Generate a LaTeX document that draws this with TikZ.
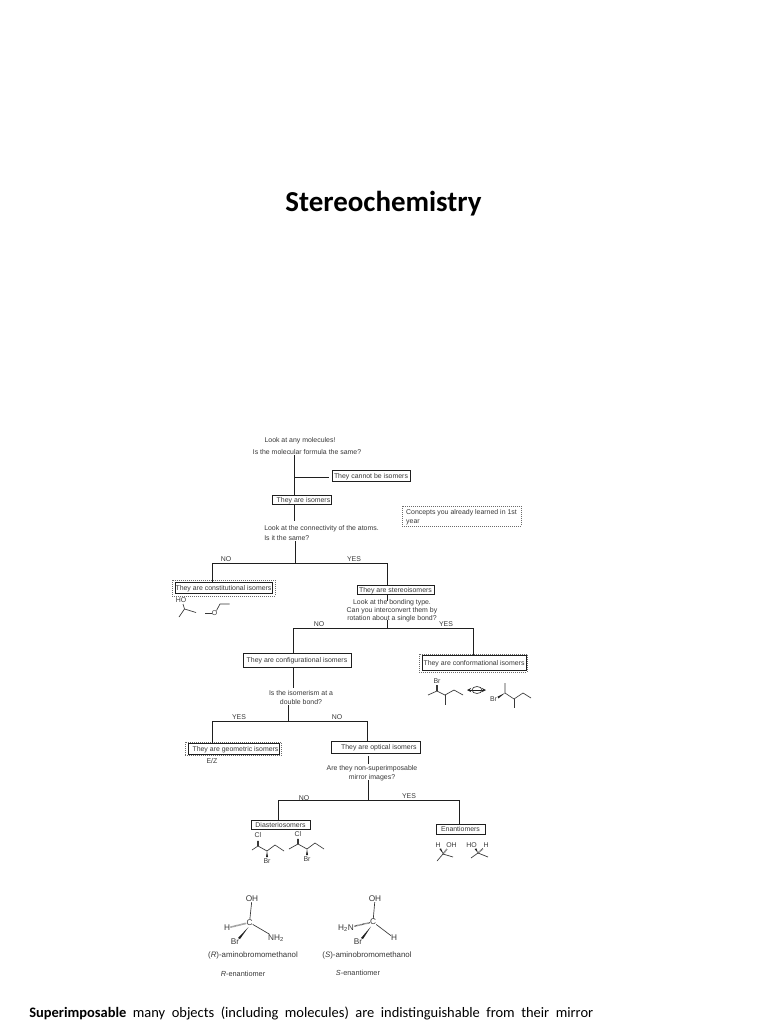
\documentclass[tikz,border=0pt]{standalone}
\usepackage{fontspec}
\setmainfont{Liberation Sans}
\newfontfamily\calib{Carlito}
\definecolor{ink}{gray}{0.12}
\definecolor{txt}{gray}{0.22}
\definecolor{dash}{gray}{0.42}
\tikzset{
  lbl/.style={inner sep=0pt,text=txt,font=\fontsize{5.2}{6.75}\selectfont,align=center,yshift=-0.5pt},
  lbll/.style={lbl,align=left,anchor=west},
  bx/.style={draw=ink,line width=0.75pt,fill=white,inner sep=0pt,text=txt,text depth=0pt,font=\fontsize{5.2}{6.75}\selectfont},
  dbox/.style={draw=dash,densely dotted,line width=0.5pt,inner sep=0pt},
  conn/.style={draw=ink,line width=0.75pt},
  bond/.style={draw=txt,line width=0.5pt},
  wedge/.style={fill=ink,draw=none},
  hash/.style={draw=txt,line width=1pt,dash pattern=on 0.4pt off 0.5pt},
  atom/.style={inner sep=0pt,text=txt,font=\fontsize{5.2}{6.75}\selectfont},
  bigatom/.style={atom,font=\fontsize{6.2}{7}\selectfont},
  sz/.style 2 args={minimum width=#1*0.75pt,minimum height=#2*0.75pt}
}
\begin{document}
\begin{tikzpicture}[x=0.75pt,y=-0.75pt]
\useasboundingbox (0,0) rectangle (768,1024);
\fill[white] (0,0) rectangle (768,1024);

\node[inner sep=0pt,font=\calib\bfseries\fontsize{21.7}{24}\selectfont,text=black] (title) at (383.5,203.5) {Stereochemistry};

% dotted surrounds
\node[dbox,sz={103}{16}] (dconst) at (223.5,588) {};
\node[dbox,sz={108}{18}] (dconf) at (473,663) {};
\node[dbox,sz={96.5}{13}] (dgeo) at (233.2,748.5) {};
\node[dbox,sz={119}{20}] (dnote) at (461.5,516) {};

% questions
\node[lbl] (q1a) at (300,440) {Look at any molecules!};
\node[lbl] (q1b) at (307,451) {Is the molecular formula the same?};
\node[lbll] (q2a) at (264,528) {Look at the connectivity of the atoms.};
\node[lbll] (q2b) at (264,537) {Is it the same?};
\node[lbl,font=\fontsize{5.2}{5.9}\selectfont] (q3) at (392,610) {Look at the bonding type.\\Can you interconvert them by\\rotation about a single bond?};
\node[lbl] (q4) at (301,696.5) {Is the isomerism at a\\double bond?};
\node[lbl] (q5) at (372,772.5) {Are they non-superimposable\\mirror images?};
\node[lbl,align=left] (note) at (461.5,516.5) {Concepts you already learned in 1st\\year};

% boxes
\node[bx,sz={78}{11}] (cannot) at (371,475.5) {They cannot be isomers};
\node[bx,sz={59}{8.5}] (iso) at (301.5,500) {\hspace*{3pt}They are isomers};
\node[bx,sz={97}{11.5}] (const) at (223.5,588) {They are constitutional isomers};
\node[bx,sz={77}{8.5}] (stereo) at (395.5,590) {They are stereoisomers};
\node[bx,sz={108}{14}] (config) at (297,660) {They are configurational isomers};
\node[bx,sz={104}{15}] (conf) at (474,662.5) {They are conformational isomers};
\node[bx,sz={91}{10.5}] (geo) at (233.5,749) {\hspace*{3pt}They are geometric isomers};
\node[bx,sz={89}{12}] (opt) at (375.5,747) {\hspace*{5pt}They are optical isomers};
\node[bx,sz={59}{9}] (dia) at (280.5,824.5) {Diasteriosomers};
\node[bx,sz={49}{10}] (ena) at (460.5,829) {Enantiomers};

% branch points
\coordinate (j1) at (294.5,477.5);
\coordinate (j2) at (295.5,563.5);
\coordinate (j2l) at (212,563.5);
\coordinate (j2r) at (387,563.5);
\coordinate (j3) at (387,628);
\coordinate (j3l) at (293.5,628);
\coordinate (j3r) at (473,628);
\coordinate (j4) at (288.5,721.5);
\coordinate (j4l) at (212,721.5);
\coordinate (j4r) at (367,721.5);
\coordinate (j5) at (368.5,800.5);
\coordinate (j5l) at (278,800.5);
\coordinate (j5r) at (459,800.5);
\coordinate (c1) at (294.5,455);
\coordinate (c2) at (294.5,521);
\coordinate (c3) at (295.5,541);
\coordinate (c4) at (387,601);
\coordinate (c5) at (387,620);
\coordinate (c6) at (293.5,688);
\coordinate (c7) at (288.5,705);
\coordinate (c8) at (368.5,764);
\coordinate (c8t) at (368.5,756);
\coordinate (c9) at (368.5,780);

% connectors
\draw[conn] (c1) -- (j1 |- iso.north);
\draw[conn,shorten >=2.25pt] (j1) -- (j1 -| cannot.west);
\draw[conn] (j1 |- iso.south) -- (c2);
\draw[conn] (c3) -- (j2);
\draw[conn] (const.north -| j2l) |- (j2r) -- (j2r |- stereo.north);
\draw[conn] (j2r |- stereo.south) -- (c4);
\draw[conn] (c5) -- (j3);
\draw[conn] (config.north -| j3l) |- (j3r) -- (j3r |- conf.north);
\draw[conn] (j3l |- config.south) -- (c6);
\draw[conn] (c7) -- (j4);
\draw[conn] (geo.north -| j4l) |- (j4r) -- (j4r |- opt.north);
\draw[conn] (c8t) -- (c8);
\draw[conn] (c9) -- (j5);
\draw[conn] (dia.north -| j5l) |- (j5r) -- (j5r |- ena.north);

% branch labels
\node[lbl] (n1) at (226,558) {NO};
\node[lbl] (y1) at (354,558) {YES};
\node[lbl] (n2) at (319,623) {NO};
\node[lbl] (y2) at (446,623) {YES};
\node[lbl] (y3) at (239,716.5) {YES};
\node[lbl] (n3) at (337,716) {NO};
\node[lbl] (n4) at (304,797) {NO};
\node[lbl] (y4) at (409,795.5) {YES};
\node[lbl] (ez) at (212,760.5) {E/Z};

% constitutional isomers molecules
\node[atom] (ho1) at (181,600.5) {HO};
\draw[bond] (183,604) -- (184.5,609) -- (179,617);
\draw[bond] (184.5,609) -- (196,612.5);
\node[atom] (o1) at (214.5,613.5) {O};
\draw[bond] (205,613.5) -- (211.5,613.5);
\draw[bond] (216.5,610.5) -- (220,604) -- (229.5,604);

% conformational isomers molecules
\node[atom] (br1) at (437,681) {Br};
\draw[bond] (428,695) -- (437,691) -- (445,695) -- (454,690) -- (463,695);
\draw[bond] (445,695) -- (445,705);
\draw[hash] (437,691) -- (437,684.5);
\draw[conn,line width=0.4pt,<->,>=stealth] (467,690) -- (486,690);
\draw[bond] (477,690) ellipse (5 and 3.5);
\node[atom] (br2) at (493.5,699) {Br};
\fill[wedge] (505,693) -- (497.5,696.6) -- (498.4,698.4) -- cycle;
\draw[bond] (505,683) -- (505,693) -- (514,699) -- (523,693) -- (531,698);
\draw[bond] (514,699) -- (514,708);

% diastereomers
\node[atom] (cl1) at (258,835.5) {Cl};
\node[atom] (br3) at (267,861) {Br};
\draw[bond] (252,850) -- (258,846) -- (267,851) -- (275,845) -- (284,851);
\draw[hash] (258,846) -- (258,840);
\fill[wedge] (267,851) -- (266,857) -- (268,857) -- cycle;
\node[atom] (cl2) at (298,834) {Cl};
\node[atom] (br4) at (307,859.5) {Br};
\draw[bond] (289,849) -- (298,844) -- (307,849) -- (315,843) -- (324,849);
\draw[hash] (298,844) -- (298,838);
\fill[wedge] (307,849) -- (306,855) -- (308,855) -- cycle;

% enantiomers
\node[atom] (h1) at (438,845.5) {H};
\node[atom] (oh1) at (451.5,845.5) {OH};
\draw[bond] (437,861) -- (443,854) -- (453,857);
\fill[wedge] (443.5,854) -- (439.4,849) -- (441,848.4) -- cycle;
\draw[hash] (443,854) -- (447,849);
\node[atom] (ho2) at (471.5,845.5) {HO};
\node[atom] (h2) at (486,845.5) {H};
\draw[bond] (471,858) -- (478,853) -- (488,857);
\fill[wedge] (478,853) -- (474.6,849) -- (476.4,848.4) -- cycle;
\draw[hash] (478,853) -- (483,848.5);

% R enantiomer structure
\node[bigatom] (oh3) at (252,899) {OH};
\node[bigatom] (cr) at (249.5,922.5) {C};
\node[bigatom] (hr) at (227,928) {H};
\node[bigatom] (brr) at (235,942) {Br};
\node[bigatom] (nr) at (276,938) {NH\textsubscript{2}};
\draw[bond,line width=0.5pt] (oh3) -- (cr);
\draw[draw=dash!70,line width=1.2pt,dash pattern=on 0.4pt off 0.3pt] (cr) -- (hr);
\fill[wedge] (248.5,927) -- (238,938) -- (240,939) -- cycle;
\draw[bond,line width=0.5pt] (cr) -- (nr);

% S enantiomer structure
\node[bigatom] (oh4) at (375,899) {OH};
\node[bigatom] (cs) at (373,922) {C};
\node[bigatom] (ns) at (346,928) {H\textsubscript{2}N};
\node[bigatom] (brs) at (358,942) {Br};
\node[bigatom] (hs) at (394,938) {H};
\draw[bond,line width=0.5pt] (oh4) -- (cs);
\draw[draw=txt,line width=1pt,dash pattern=on 0.4pt off 0.5pt] (cs) -- (ns);
\fill[wedge] (371,926.5) -- (361,938) -- (363,939) -- cycle;
\draw[bond,line width=0.5pt] (cs) -- (hs);

% captions
\node[lbl,font=\fontsize{5.9}{7}\selectfont] (rn) at (253,955) {(\textit{R})-aminobromomethanol};
\node[lbl,font=\fontsize{5.9}{7}\selectfont] (sn) at (367,955) {(\textit{S})-aminobromomethanol};
\node[lbl,font=\fontsize{5.5}{7}\selectfont] (re) at (243,973) {\textit{R}-enantiomer};
\node[lbl,font=\fontsize{5.5}{7}\selectfont] (se) at (358,972) {\textit{S}-enantiomer};

% body line
\node[inner sep=0pt,anchor=base west,font=\calib\fontsize{10.85}{13}\selectfont,text=black] (body) at (29,1017)
  {\makebox[423pt][s]{\textbf{Superimposable} many objects (including molecules) are indistinguishable from their mirror}};
\end{tikzpicture}
\end{document}
